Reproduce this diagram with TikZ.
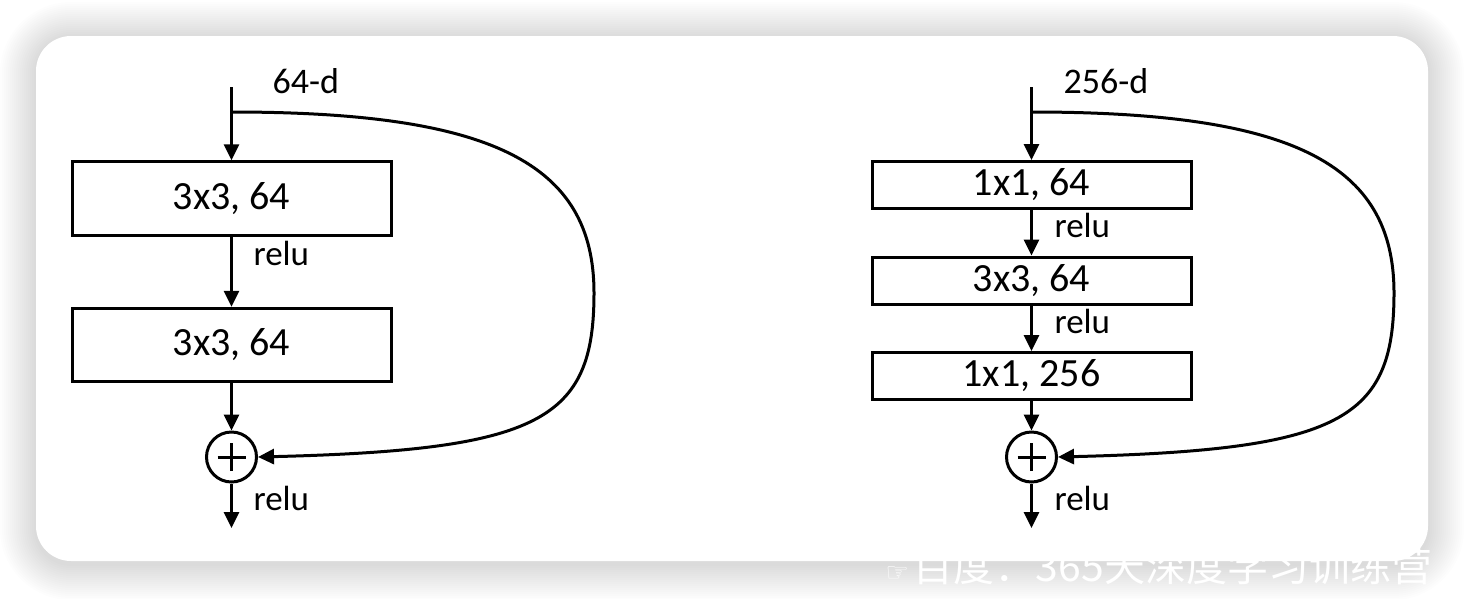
\documentclass[tikz,border=0pt]{standalone}
\usepackage{fontspec}
\setmainfont{Carlito}
\newfontfamily\cjkfont{Noto Sans CJK SC}
\newfontfamily\symfont{DejaVu Sans}
\usetikzlibrary{arrows.meta}
\begin{document}
\begin{tikzpicture}[x=1pt,y=-1pt,
  line width=3pt,
  arr/.style={-{Triangle[length=16pt,width=15pt]}},
  box/.style={draw, line width=3pt, inner sep=0pt, minimum width=319pt,
    font=\fontsize{40}{48}\selectfont},
  tallbox/.style={box, minimum height=73.5pt},
  thinbox/.style={box, minimum height=47pt},
  lbl/.style={anchor=base west, inner sep=0pt, font=\fontsize{35}{42}\selectfont},
  dimlbl/.style={anchor=base west, inner sep=0pt, font=\fontsize{36}{42}\selectfont},
  sum/.style={circle, draw, line width=3pt, minimum size=50pt, inner sep=0pt,
    path picture={\draw[line width=3pt]
      ([xshift=-14pt]path picture bounding box.center) -- ([xshift=14pt]path picture bounding box.center)
      ([yshift=-14pt]path picture bounding box.center) -- ([yshift=14pt]path picture bounding box.center);}},
  ]
\useasboundingbox (0,0) rectangle (1464,598);
\fill[white] (0,0) rectangle (1464,598);
% card shadow
\foreach \i in {1,...,18}{
  \fill[black, opacity=0.0075, rounded corners={35pt+2*\i pt}]
    ({36-2*\i},{38-2*\i}) rectangle ({1428+2*\i},{564+2*\i});
}
% card
\fill[white, rounded corners=35pt] (36,36) rectangle (1428,561);

% ---------- left block ----------
\node[tallbox] (b1L) at (231.5,198.5) {3x3, 64};
\node[tallbox] (b2L) at (231.5,345) {3x3, 64};
\node[sum] (sL) at (231.5,457) {};
\coordinate (inL) at (231.5,87);
\coordinate (brL) at (231.5,112);
\coordinate (bendL) at (594,293);
\coordinate (outL) at (231.5,528);
\node[dimlbl] (dL) at (271,93) {64-d};
\node[lbl] (r1L) at (252,265) {relu};
\node[lbl] (r2L) at (252,510) {relu};
\draw[arr] (inL) -- (b1L.north);
\draw[arr] (b1L.south) -- (b2L.north);
\draw[arr] (b2L.south) -- (sL.north);
\draw[arr] (sL.south) -- (outL);
\draw[arr] (brL) .. controls +(260,0) and +(0,-130) .. (bendL)
  .. controls +(0,127) and +(283,-7) .. (sL.east);

% ---------- right block ----------
\node[thinbox] (b1R) at (1031.5,185) {1x1, 64};
\node[thinbox] (b2R) at (1031.5,280.5) {3x3, 64};
\node[thinbox] (b3R) at (1031.5,376) {1x1, 256};
\node[sum] (sR) at (1031.5,457) {};
\coordinate (inR) at (1031.5,87);
\coordinate (brR) at (1031.5,112);
\coordinate (bendR) at (1394,293);
\coordinate (outR) at (1031.5,528);
\node[dimlbl] (dR) at (1062,93) {256-d};
\node[lbl] (r1R) at (1053,237) {relu};
\node[lbl] (r2R) at (1053,333) {relu};
\node[lbl] (r3R) at (1053,510) {relu};
\draw[arr] (inR) -- (b1R.north);
\draw[arr] (b1R.south) -- (b2R.north);
\draw[arr] (b2R.south) -- (b3R.north);
\draw[arr] (b3R.south) -- (sR.north);
\draw[arr] (sR.south) -- (outR);
\draw[arr] (brR) .. controls +(260,0) and +(0,-130) .. (bendR)
  .. controls +(0,127) and +(283,-7) .. (sR.east);

% watermark
\node[anchor=base west, inner sep=0pt, text=white, font=\cjkfont\fontsize{41}{46}\selectfont]
  (wm) at (884,581) {{\symfont\fontsize{26}{30}\selectfont ☞}\hspace{4pt}百度：365天深度学习训练营};
\end{tikzpicture}
\end{document}
